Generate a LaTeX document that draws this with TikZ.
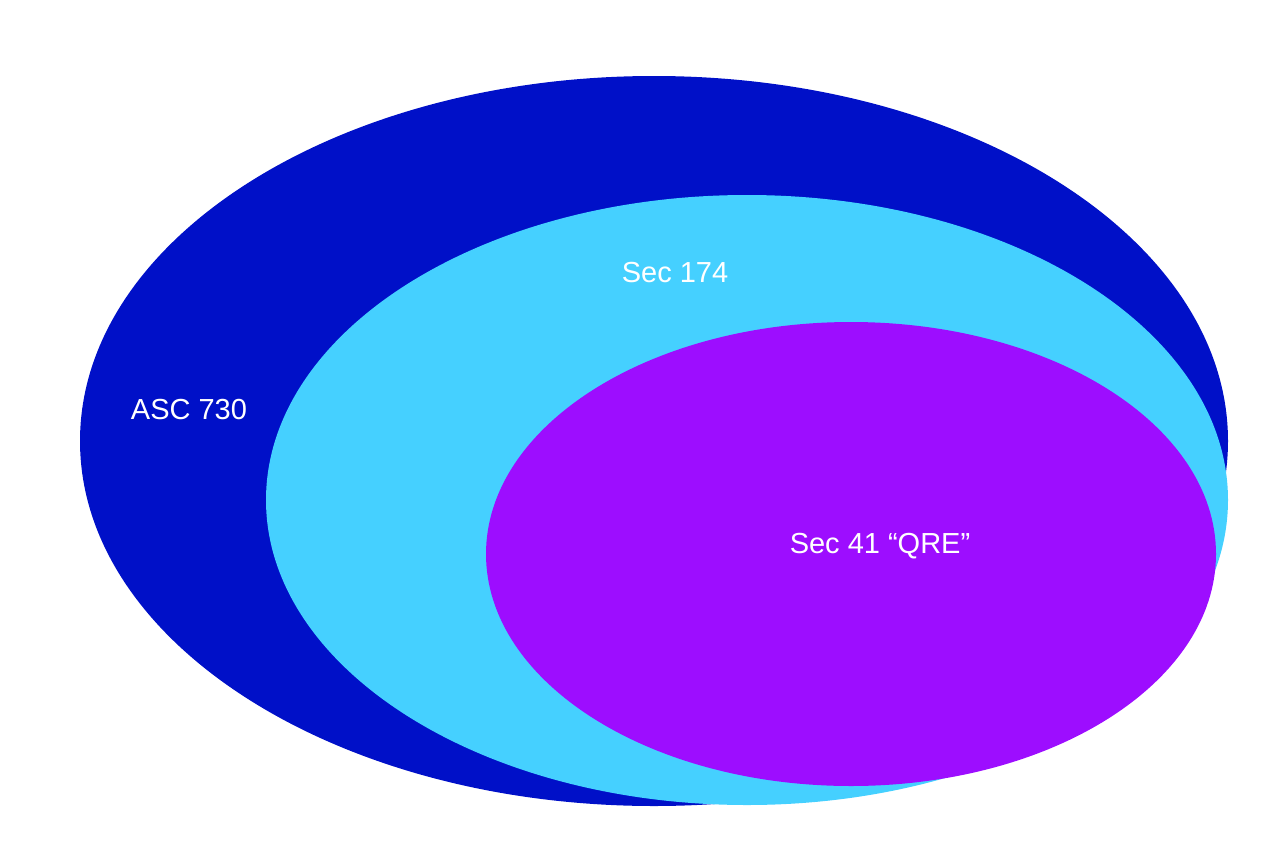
\documentclass[tikz,border=0pt]{standalone}
\usepackage{fontspec}
\setmainfont{Liberation Sans}
\definecolor{dblue}{HTML}{0010C8}
\definecolor{lblue}{HTML}{45D0FF}
\definecolor{purp}{HTML}{9D0DFF}
\begin{document}
\begin{tikzpicture}[x=1pt,y=-1pt,
  lbl/.style={text=white,font=\fontsize{29}{34}\selectfont,inner sep=0pt}]
\useasboundingbox (0,0) rectangle (1275,865);
\fill[dblue] (654,441) ellipse [x radius=574,y radius=365];
\fill[lblue] (747,500) ellipse [x radius=481,y radius=305];
\fill[purp] (851,554) ellipse [x radius=365,y radius=232];
\node[lbl] (asc) at (189,410) {ASC 730};
\node[lbl] (s174) at (675,273) {Sec 174};
\node[lbl] (s41) at (880,546) {Sec 41 “QRE”};
\end{tikzpicture}
\end{document}
